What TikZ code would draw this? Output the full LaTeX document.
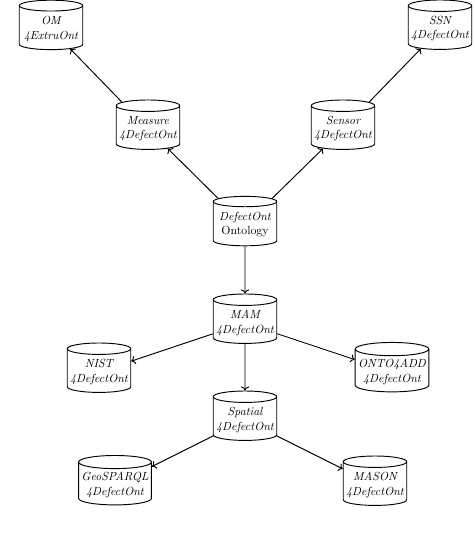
\documentclass[tikz,border=0pt]{standalone}
\usetikzlibrary{shapes.geometric,arrows.meta}
\begin{document}
\begin{tikzpicture}[x=0.85pt,y=-0.85pt,
  cyl/.style={cylinder, shape border rotate=90, draw, thick, aspect=0.18,
    minimum width=54pt, minimum height=42pt, inner xsep=2.5pt, inner ysep=2pt,
    align=center, font=\itshape},
  link/.style={-{To[length=3.5pt,width=7pt]}, thick}]
\useasboundingbox (0,0) rectangle (474,535);
\node[cyl] (om) at (51,29) {OM\\4ExtruOnt};
\node[cyl] (ssn) at (440,29) {SSN\\4DefectOnt};
\node[cyl] (measure) at (148,129) {Measure\\4DefectOnt};
\node[cyl] (sensor) at (343,129) {Sensor\\4DefectOnt};
\node[cyl] (defect) at (245,225) {DefectOnt\\\upshape Ontology};
\node[cyl] (mam) at (245,323) {MAM\\4DefectOnt};
\node[cyl] (nist) at (99,372) {NIST\\4DefectOnt};
\node[cyl] (onto) at (392,372) {ONTO4ADD\\4DefectOnt};
\node[cyl] (spatial) at (245,420) {Spatial\\4DefectOnt};
\node[cyl] (geo) at (115,485) {GeoSPARQL\\4DefectOnt};
\node[cyl] (mason) at (375,485) {MASON\\4DefectOnt};
\draw[link] (defect) -- (measure);
\draw[link] (defect) -- (sensor);
\draw[link] (measure) -- (om);
\draw[link] (sensor) -- (ssn);
\draw[link] (defect) -- (mam);
\draw[link] (mam) -- (nist);
\draw[link] (mam) -- (onto);
\draw[link] (mam) -- (spatial);
\draw[link] (spatial) -- (geo);
\draw[link] (spatial) -- (mason);
\end{tikzpicture}
\end{document}
